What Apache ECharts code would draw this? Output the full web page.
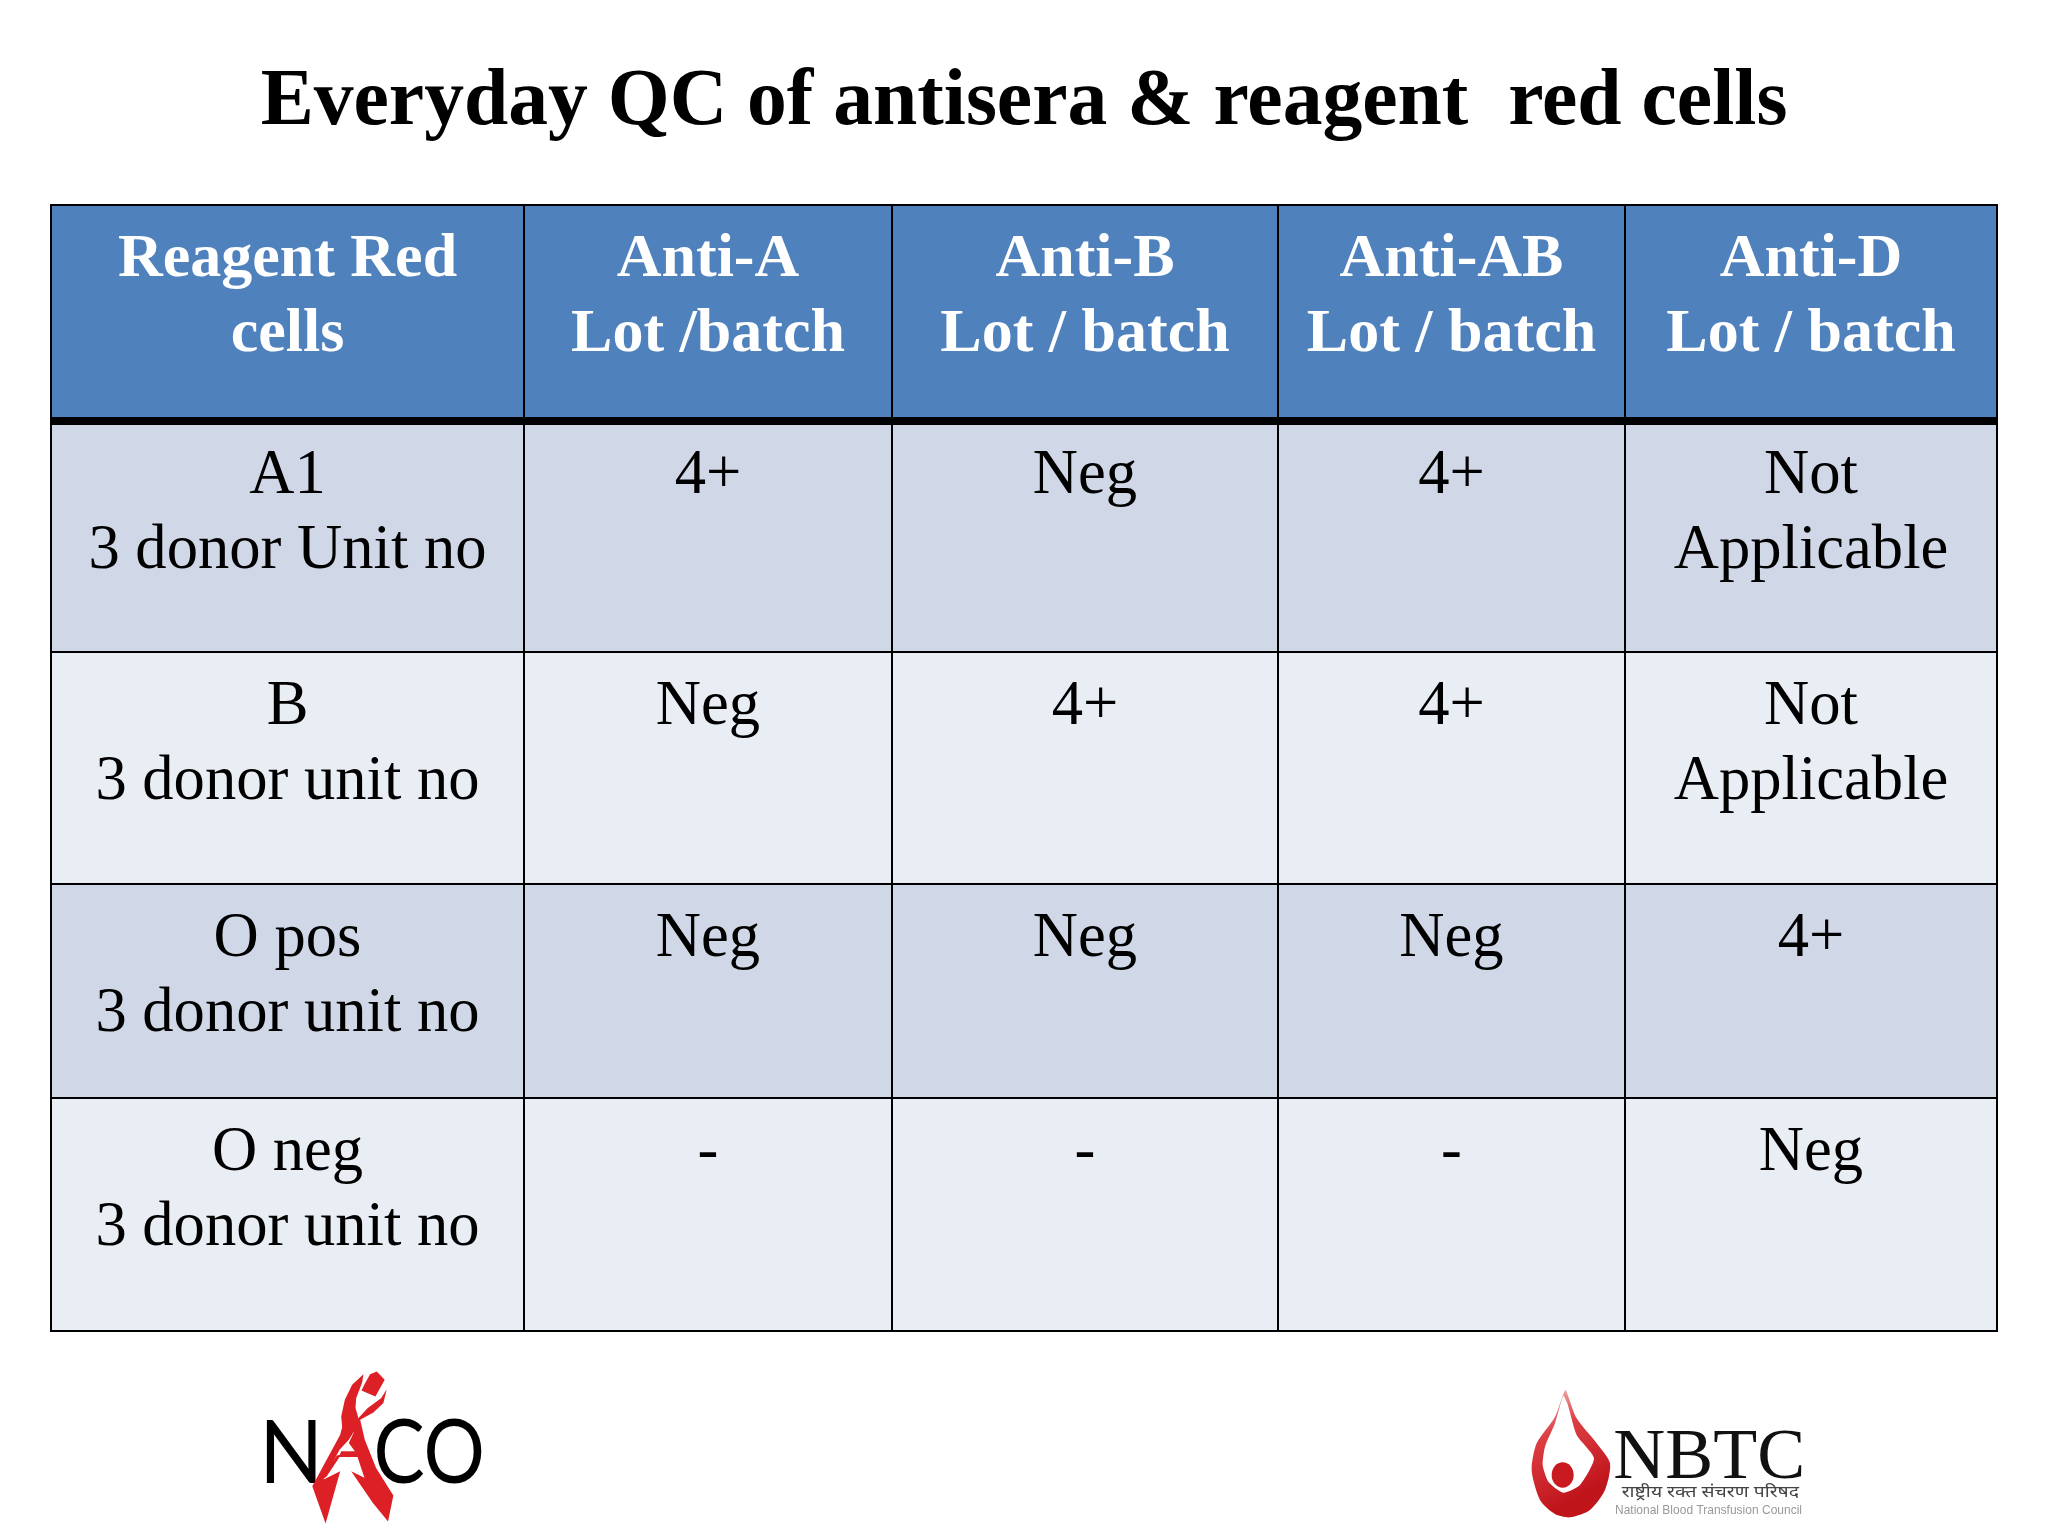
<!DOCTYPE html>
<html>
<head>
<meta charset="utf-8">
<title>Everyday QC</title>
<style>
html, body { margin: 0; padding: 0; background: #fff; }
#main { width: 2048px; height: 1536px; }
</style>
<script src="https://cdn.jsdelivr.net/npm/echarts@6/dist/echarts.min.js"></script>
</head>
<body>
<div id="main"></div>
<script>
const titleText = 'Everyday QC of antisera & reagent  red cells'
const headers = ['Reagent Red\ncells', 'Anti-A\nLot /batch', 'Anti-B\nLot / batch', 'Anti-AB\nLot / batch', 'Anti-D\nLot / batch']
const redCells = ['A1\n3 donor Unit no', 'B\n3 donor unit no', 'O pos\n3 donor unit no', 'O neg\n3 donor unit no']
const antiA = ['4+', 'Neg', 'Neg', '-']
const antiB = ['Neg', '4+', 'Neg', '-']
const antiAB = ['4+', '4+', 'Neg', '-']
const antiD = ['Not\nApplicable', 'Not\nApplicable', '4+', 'Neg']

const columnSizes = [473, 368, 386, 347, 372]
const rowSizes = [213, 6, 228, 232, 214, 233]

const serif = '"Liberation Serif"'
const blue = '#4f81bd'
const bandDark = '#d0d8e8'
const bandLight = '#e9edf4'
const ribbonRed = '#dd1f26'

function cellStyle(fill) {
    return { color: fill, borderColor: '#000', borderWidth: 2 }
}

function buildCells() {
    let cells = []
    headers.forEach((text, col) => {
        cells.push({
            coord: [col, 0],
            value: text,
            itemStyle: cellStyle(blue),
            label: { color: '#fff', fontWeight: 'bold', fontSize: 62, distance: 15 }
        })
        cells.push({ coord: [col, 1], value: '', itemStyle: { color: '#000', borderColor: '#000', borderWidth: 1 } })
    })
    const columns = [redCells, antiA, antiB, antiAB, antiD]
    columns.forEach((column, col) => {
        column.forEach((text, row) => {
            cells.push({
                coord: [col, row + 2],
                value: text,
                itemStyle: cellStyle(row % 2 === 0 ? bandDark : bandLight),
                // first body row sits a bit closer to the thick rule
                label: row === 0 ? { distance: 13 } : {}
            })
        })
    })
    return cells
}

function poly(points, fill) {
    return { type: 'polygon', shape: { points: points }, style: { fill: fill } }
}

let myChart = echarts.init(document.getElementById('main'))

// the two logos are plain drawings, coordinates are in 3x crop space
const nacoLogo = {
    type: 'group', x: 200, y: 1340, scaleX: 1 / 3.01, scaleY: 1 / 3.01, silent: true,
    children: [
        { type: 'text', x: 178, y: 214, scaleX: 0.96, style: { text: 'N', fontFamily: 'Lato', fontSize: 262, fill: '#000' } },
        { type: 'text', x: 522, y: 210, scaleX: 0.86, style: { text: 'CO', fontFamily: 'Lato', fontSize: 268, fill: '#000' } },
        poly([[492, 103], [458, 135], [436, 180], [425, 230], [428, 262], [422, 285], [338, 440], [378, 552], [422, 395], [372, 420], [420, 330], [448, 300], [472, 262], [476, 232], [468, 205], [470, 175], [488, 128]], ribbonRed),
        poly([[496, 132], [512, 103], [532, 95], [556, 120], [528, 170], [486, 152]], ribbonRed),
        poly([[562, 148], [552, 190], [522, 218], [482, 240], [496, 300], [530, 385], [582, 468], [566, 546], [520, 490], [455, 395], [495, 415], [470, 340], [448, 310], [462, 280], [470, 242], [505, 205], [545, 175]], ribbonRed),
        poly([[425, 345], [412, 348], [360, 420], [380, 412]], ribbonRed),
        poly([[425, 335], [475, 335], [480, 352], [418, 352]], ribbonRed)
    ]
}

const nbtcLogo = {
    type: 'group', x: 1480, y: 1360, scaleX: 1 / 3, scaleY: 1 / 3, silent: true,
    children: [
        {
            type: 'polygon',
            shape: { points: [[256, 90], [225, 170], [170, 250], [155, 330], [180, 420], [225, 462], [270, 472], [330, 450], [375, 390], [390, 310], [350, 250], [290, 175], [265, 110]], smooth: 0.25 },
            style: { fill: new echarts.graphic.LinearGradient(0, 0, 0.7, 0.8, [{ offset: 0, color: '#f3d0d0' }, { offset: 0.4, color: '#dc4044' }, { offset: 1, color: '#c0141b' }]) }
        },
        {
            type: 'polygon',
            shape: { points: [[250, 108], [225, 190], [195, 260], [188, 315], [205, 365], [250, 398], [300, 375], [342, 295], [290, 225], [262, 130]], smooth: 0.2 },
            style: { fill: '#fff' }
        },
        { type: 'circle', x: 248, y: 345, scaleY: 1.15, shape: { r: 33 }, style: { fill: '#c81a20' } },
        { type: 'text', x: 400, y: 188, style: { text: 'NBTC', fontFamily: serif, fontSize: 216, fill: '#111' } },
        { type: 'text', x: 425, y: 372, scaleX: 1.16, style: { text: 'राष्ट्रीय रक्त संचरण परिषद', fontFamily: '"Noto Sans", "DejaVu Sans"', fontSize: 50, fill: '#444' } },
        { type: 'text', x: 405, y: 434, style: { text: 'National Blood Transfusion Council', fontFamily: '"Liberation Sans"', fontSize: 36, fill: '#999' } }
    ]
}

let option = {
    backgroundColor: '#ffffff',
    animation: false,
    title: {
        text: titleText,
        left: 'center',
        top: 58,
        textStyle: { fontFamily: serif, fontWeight: 'bold', fontSize: 79.6, color: '#000' }
    },
    matrix: {
        left: 51,
        top: 205,
        width: 1946,
        height: 1126,
        backgroundStyle: { borderColor: '#000', borderWidth: 2 },
        x: { show: false, data: headers.map((text, i) => ({ value: 'c' + i, size: columnSizes[i] })) },
        y: { show: false, data: rowSizes.map((size, i) => ({ value: 'r' + i, size: size })) },
        body: {
            data: buildCells(),
            label: {
                show: true,
                color: '#000',
                fontFamily: serif,
                fontSize: 62.6,
                lineHeight: 75,
                align: 'center',
                verticalAlign: 'top',
                position: 'insideTop',
                distance: 16
            }
        }
    },
    graphic: [nacoLogo, nbtcLogo]
}

myChart.setOption(option)
</script>
</body>
</html>
